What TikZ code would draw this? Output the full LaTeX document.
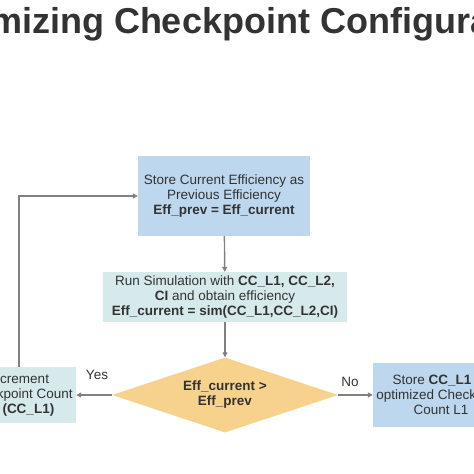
\documentclass[tikz,border=0pt]{standalone}
\usepackage{fontspec}
\setmainfont{Liberation Sans}
\usetikzlibrary{arrows.meta,shapes.geometric}

\definecolor{txt}{HTML}{333333}
\definecolor{lineg}{HTML}{808080}
\definecolor{stepblue}{HTML}{BDD7EE}
\definecolor{stepteal}{HTML}{D6EAEC}
\definecolor{decide}{HTML}{F7D28C}

\tikzset{
  box/.style={rectangle,inner sep=0pt,align=center,text=txt,
    font=\fontsize{13.5}{15}\selectfont},
  flow/.style={draw=lineg,line width=1.4pt,-{Triangle[length=5pt,width=5pt]}},
  lbl/.style={text=txt,font=\fontsize{13.5}{15}\selectfont}
}

\begin{document}
\begin{tikzpicture}[x=1pt,y=-1pt]
    \useasboundingbox (0,0) rectangle (474,474);
    \clip (0,0) rectangle (474,474);
    \node[anchor=base,text=txt,font=\fontsize{36}{40}\selectfont\bfseries] (title) at (237,33) {Optimizing Checkpoint Configuration};
    % steps
    \node[box,fill=stepblue,minimum width=172,minimum height=80] (store) at (224,196) {Store Current Efficiency as\\Previous Efficiency\\\textbf{Eff\_prev = Eff\_current}};
    \node[box,fill=stepteal,minimum width=244,minimum height=50] (run) at (225,297) {Run Simulation with \textbf{CC\_L1, CC\_L2,}\\\textbf{CI} and obtain efficiency\\\textbf{Eff\_current = sim(CC\_L1,CC\_L2,CI)}};
    \node[box,diamond,aspect=3,fill=decide,minimum width=226,minimum height=75] (check) at (225,395) {\textbf{Eff\_current >}\\\textbf{Eff\_prev}};
    \node[box,fill=stepteal,minimum width=114,minimum height=56] (inc) at (19,395) {Increment\\Checkpoint Count\\L1 \textbf{(CC\_L1)}};
    \node[box,fill=stepblue,minimum width=136,minimum height=64] (save) at (441,395) {Store \textbf{CC\_L1} as\\optimized Checkpoint\\Count L1};
    % connectors
    \draw[flow] (store) -- (run);
    \draw[flow] (run) -- (check);
    \draw[flow] (check) -- (inc);
    \draw[flow] (check) -- (save);
    \draw[flow] (inc.north) |- (store.west);
    \node[lbl] (yes) at (97,375) {Yes};
    \node[lbl] (no) at (350,382) {No};
\end{tikzpicture}
\end{document}
